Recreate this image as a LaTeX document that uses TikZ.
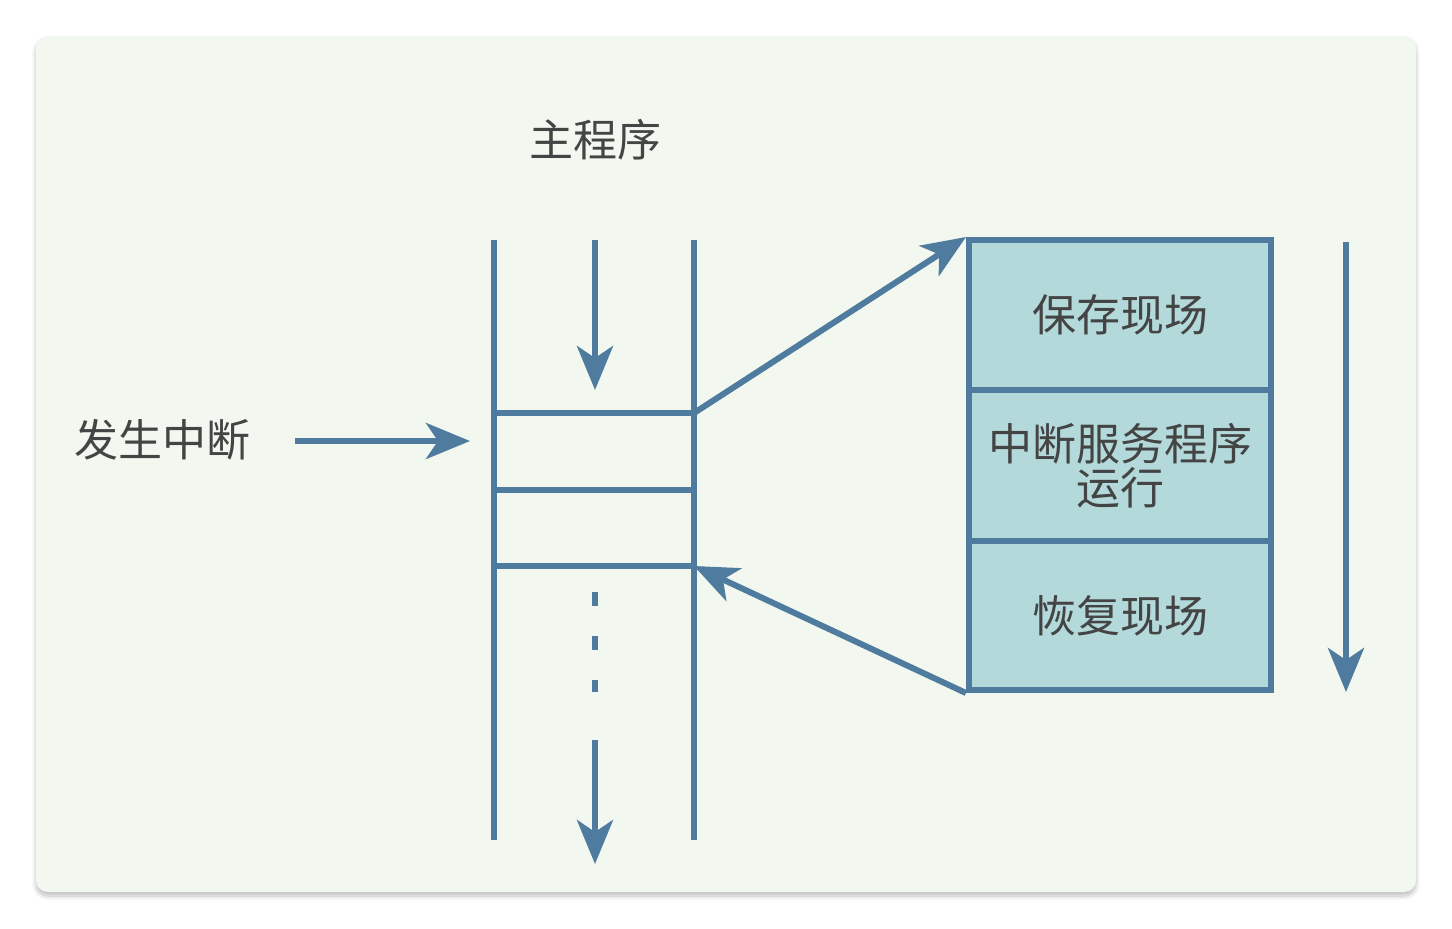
\documentclass[tikz,border=0pt]{standalone}
\usepackage{fontspec}
\setmainfont{Noto Sans CJK SC}
\usetikzlibrary{arrows.meta,shadows.blur}
\definecolor{ln}{HTML}{4F7B9E}
\definecolor{bg}{HTML}{F2F8EF}
\definecolor{bx}{HTML}{B3D9DA}
\definecolor{tx}{HTML}{444444}
\tikzset{
 ln/.style={draw=ln,line width=3pt},
 arr/.style={ln,-{Stealth[length=22pt,width=18pt,inset=6pt]}},
 lbl/.style={text=tx,font=\fontsize{22}{26}\selectfont,align=center,inner sep=0pt},
 cell/.style={ln,fill=bx,minimum width=151pt,inner sep=0pt}
}
\begin{document}
\begin{tikzpicture}[x=0.5pt,y=-0.5pt]
\useasboundingbox (0,0) rectangle (1452,928);
\fill[bg,rounded corners=6pt,blur shadow={shadow blur steps=8,shadow xshift=0pt,shadow yshift=-2pt,shadow opacity=25}] (36,36) rectangle (1416,892);
\node[lbl] (title) at (595,140) {主程序};
\node[lbl] (irq) at (163,440) {发生中断};
% main program columns
\coordinate (lt) at (494,240); \coordinate (lb) at (494,840);
\coordinate (rt) at (694,240); \coordinate (rb) at (694,840);
\draw[ln] (lt) -- (lb); \draw[ln] (rt) -- (rb);
\coordinate (a1) at (494,413); \coordinate (b1) at (694,413);
\coordinate (a2) at (494,490); \coordinate (b2) at (694,490);
\coordinate (a3) at (494,566); \coordinate (b3) at (694,566);
\draw[ln] (a1) -- (b1); \draw[ln] (a2) -- (b2); \draw[ln] (a3) -- (b3);
\coordinate (d0) at (595,240); \coordinate (d1) at (595,390);
\draw[arr] (d0) -- (d1);
\coordinate (e0) at (595,592); \coordinate (e1) at (595,692);
\draw[ln,dash pattern=on 7pt off 15pt] (e0) -- (e1);
\coordinate (f0) at (595,740); \coordinate (f1) at (595,864);
\draw[arr] (f0) -- (f1);
\coordinate (g0) at (295,441); \coordinate (g1) at (470,441);
\draw[arr] (g0) -- (g1);
% service box
\node[cell,minimum height=75pt,lbl] (s1) at (1120,315) {保存现场};
\node[cell,minimum height=75.5pt,lbl] (s2) at (1120,465.5) {中断服务程序\\[-4pt]运行};
\node[cell,minimum height=74.5pt,lbl] (s3) at (1120,615.5) {恢复现场};
\draw[arr] (b1) -- (s1.north west);
\draw[arr] (s3.south west) -- (b3);
\coordinate (h0) at (1346,242); \coordinate (h1) at (1346,692);
\draw[arr] (h0) -- (h1);
\end{tikzpicture}
\end{document}
